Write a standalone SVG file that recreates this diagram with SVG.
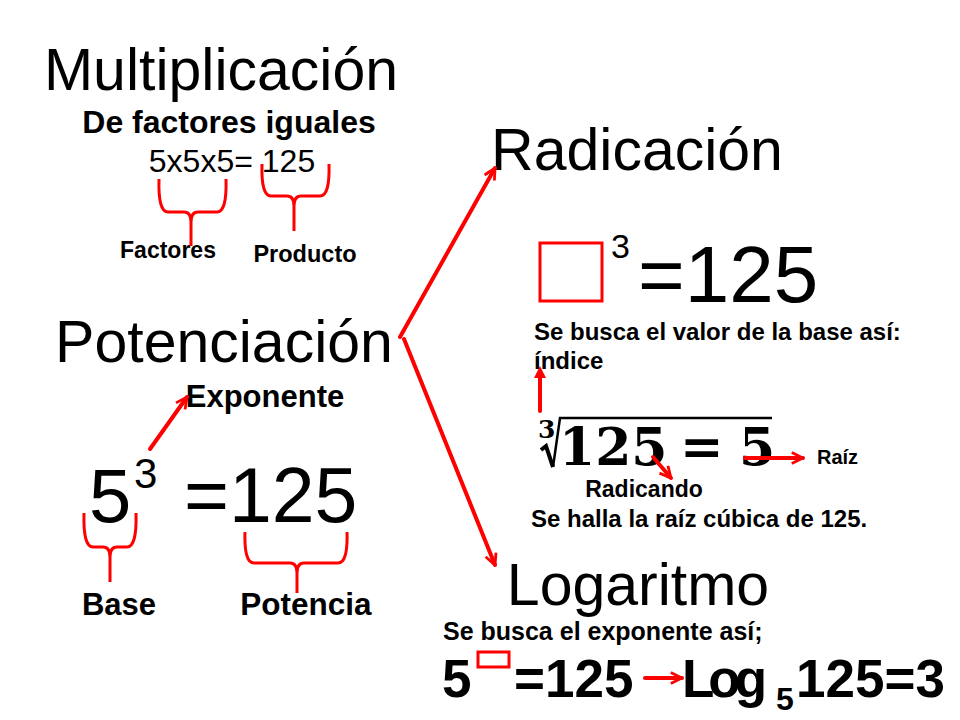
<svg xmlns="http://www.w3.org/2000/svg" width="960" height="720" viewBox="0 0 960 720">
<defs>
<style>
.t{font-family:"Liberation Sans",Arial,sans-serif;fill:#000}
.b{font-family:"Liberation Sans",Arial,sans-serif;font-weight:bold;fill:#000}
.m{font-family:"DejaVu Serif","Liberation Serif",serif;font-weight:bold;fill:#000}
.r{stroke:#FF0000;stroke-width:4;fill:none;stroke-linecap:round}
.br{stroke:#FF0000;stroke-width:3;fill:none;stroke-linejoin:round}
</style>
<marker id="chev" viewBox="0 0 10 10" refX="9" refY="5" markerWidth="14" markerHeight="14" markerUnits="userSpaceOnUse" orient="auto">
<path d="M1,1 L9,5 L1,9" fill="none" stroke="#FF0000" stroke-width="2"/>
</marker>
<marker id="tri" viewBox="0 0 10 10" refX="5" refY="5" markerWidth="12" markerHeight="12" markerUnits="userSpaceOnUse" orient="auto">
<path d="M0,0 L10,5 L0,10 Z" fill="#FF0000"/>
</marker>
</defs>
<rect width="960" height="720" fill="#fff"/>

<g id="multiplicacion">
<text class="t" x="221" y="90" font-size="59" text-anchor="middle">Multiplicación</text>
<text class="b" x="229" y="133" font-size="32" text-anchor="middle">De factores iguales</text>
<text class="t" x="232" y="172" font-size="32" text-anchor="middle">5x5x5= 125</text>
<text class="b" x="168" y="258" font-size="23" text-anchor="middle">Factores</text>
<text class="b" x="305" y="262" font-size="23.5" text-anchor="middle">Producto</text>
</g>

<g id="potenciacion">
<text class="t" x="224" y="362" font-size="59" text-anchor="middle">Potenciación</text>
<text class="b" x="265" y="407" font-size="31" text-anchor="middle">Exponente</text>
<text class="t" x="89" y="522" font-size="76">5</text>
<text class="t" x="134" y="488" font-size="42">3</text>
<text class="t" x="184" y="522" font-size="77">=125</text>
<text class="b" x="119" y="615" font-size="31" text-anchor="middle">Base</text>
<text class="b" x="306" y="615" font-size="31.5" text-anchor="middle">Potencia</text>
</g>

<g id="radicacion">
<text class="t" x="637" y="170" font-size="59" text-anchor="middle">Radicación</text>
<rect x="540" y="243" width="62" height="58" fill="none" stroke="#FF0000" stroke-width="3"/>
<text class="t" x="611" y="258" font-size="34">3</text>
<text class="t" x="638" y="302" font-size="80">=125</text>
<text class="b" x="534" y="340" font-size="24">Se busca el valor de la base así:</text>
<text class="b" x="534" y="369" font-size="24">índice</text>
<text class="m" x="538" y="438" font-size="25">3</text>
<polyline points="541,450 546,446 553,467" fill="none" stroke="#000" stroke-width="4" stroke-linejoin="miter"/>
<polyline points="553,467 560,418 772,418" fill="none" stroke="#000" stroke-width="2.5" stroke-linejoin="miter"/>
<text class="m" y="465" font-size="52"><tspan x="559">125</tspan><tspan x="680">=</tspan><tspan x="739">5</tspan></text>
<text class="b" x="817" y="464" font-size="20">Raíz</text>
<text class="b" x="644" y="497" font-size="23" text-anchor="middle">Radicando</text>
<text class="b" x="531" y="527" font-size="24">Se halla la raíz cúbica de 125.</text>
</g>

<g id="logaritmo">
<text class="t" x="638" y="605" font-size="59" text-anchor="middle">Logaritmo</text>
<text class="b" x="443" y="640" font-size="25">Se busca el exponente así;</text>
<text class="b" x="442" y="697" font-size="53">5</text>
<rect x="478" y="652" width="31" height="15" fill="none" stroke="#FF0000" stroke-width="3"/>
<text class="b" x="514" y="697" font-size="53">=125</text>
<text class="b" x="682" y="697" font-size="53" letter-spacing="-6">Log</text>
<text class="b" x="776" y="710" font-size="32">5</text>
<text class="b" x="796" y="697" font-size="53">125=3</text>
</g>

<g id="connectors">
<line class="r" x1="400" y1="337" x2="495" y2="168" marker-end="url(#chev)"/>
<line class="r" x1="404" y1="339" x2="495" y2="565" marker-end="url(#chev)"/>
<line class="r" x1="150" y1="449" x2="187" y2="397" marker-end="url(#chev)"/>
<line class="r" x1="540" y1="411" x2="540" y2="372" marker-end="url(#tri)"/>
<line class="r" x1="653" y1="457" x2="671" y2="478" marker-end="url(#chev)"/>
<line class="r" x1="745" y1="458" x2="803" y2="458" marker-end="url(#chev)"/>
<line class="r" x1="645" y1="678" x2="682" y2="678" marker-end="url(#chev)"/>
<path class="br" d="M159,179 Q158,212 168,212 L184,212 Q191,212 191,222 L191,246 M226,179 Q227,212 217,212 L198,212 Q191,212 191,222"/>
<path class="br" d="M262,164 Q261,196 271,196 L287,196 Q294,196 294,206 L294,231 M329,164 Q330,196 320,196 L301,196 Q294,196 294,206"/>
<path class="br" d="M84,513 Q83,547 93,547 L103,547 Q110,547 110,557 L110,582 M136,513 Q137,547 127,547 L117,547 Q110,547 110,557"/>
<path class="br" d="M245,532 Q244,563 254,563 L290,563 Q297,563 297,573 L297,593 M347,532 Q348,563 338,563 L304,563 Q297,563 297,573"/>
</g>
</svg>
